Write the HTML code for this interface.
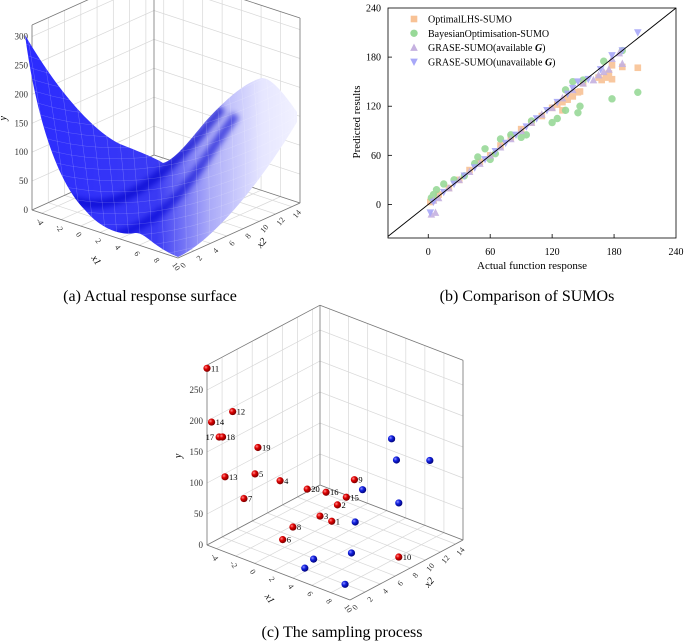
<!DOCTYPE html>
<html><head><meta charset="utf-8"><style>
body{margin:0;background:#fff;}
svg{display:block;font-family:"Liberation Serif",serif;}
</style></head><body>
<svg id="fig" width="685" height="643" viewBox="0 0 685 643" xmlns="http://www.w3.org/2000/svg">
<defs>
<linearGradient id="surfGrad" x1="0" y1="0" x2="1" y2="0">
<stop offset="0" stop-color="#2a2aff"/><stop offset="0.48" stop-color="#3a3af4"/><stop offset="0.66" stop-color="#a8a8f8"/><stop offset="0.85" stop-color="#e6e6ff"/><stop offset="1" stop-color="#f4f4ff"/>
</linearGradient>
<filter id="blur"><feGaussianBlur stdDeviation="3"/></filter>
<clipPath id="surfClip"><path d="M25,35 C35,110 55,180 85,210 C100,228 120,236 135,233 C145,232 152,246 178,257 C205,245 250,200 297,122 L297,112 C285,95 272,78 262,78 C245,82 225,100 205,122 C190,140 175,160 163,163 C155,158 140,152 120,144 C95,132 60,95 25,35 Z"/></clipPath>
</defs>
<g id="panelA"></g>
<g id="panelB"></g>
<g id="panelC"></g>
<text x="150" y="301" font-size="16" text-anchor="middle">(a) Actual response surface</text>
<text x="527" y="301" font-size="16" text-anchor="middle">(b) Comparison of SUMOs</text>
<text x="342" y="637" font-size="16" text-anchor="middle">(c) The sampling process</text>
</svg>
<script>
// ---------- data: panel B ----------
const lhsX=[2,5,10,20,30,40,50,60,70,80,90,100,110,120,125,130,130,135,135,140,145,147,150,165,168,172,175,178,178,188,203];
const lhsY=[3,5,12,20,30,42,52,60,72,82,92,100,108,118,122,125,115,130,128,132,137,138,148,155,152,155,160,153,170,168,167];
const bayX=[3,5,8,15,25,35,45,48,55,60,65,70,80,90,95,100,120,125,133,133,140,145,147,150,170,178,188,203];
const bayY=[8,12,18,25,30,35,50,58,68,55,62,80,85,82,85,102,100,105,115,140,150,112,120,152,175,129,188,137];
const avX=[3,5,7,10,20,30,40,50,60,70,80,90,100,110,120,130,140,150,160,165,170,175,178,185,188];
const avY=[-12,5,-10,8,20,30,40,50,60,70,80,90,100,110,118,130,140,148,152,158,162,165,178,185,172];
const unX=[2,5,15,25,35,45,55,65,75,85,95,105,115,125,135,140,145,155,167,178,188,203];
const unY=[-10,3,15,25,35,45,55,65,75,85,95,105,115,125,135,142,150,153,165,182,188,210];
const bTicks=[0,60,120,180,240];
const legendLabels=["OptimalLHS-SUMO","BayesianOptimisation-SUMO","GRASE-SUMO(available ","GRASE-SUMO(unavailable "];
// ---------- data: panel C ----------
const redX1=[2.0,2.6,1.4,-0.1,-1.7,-0.3,-3.1,0.3,4.3,8.4,-5.0,-3.1,-3.9,-4.6,4.4,3.3,-4.2,-4.0,-1.0,1.8];
const redX2=[7.7,7.7,6.9,3.5,2.2,4.1,2.5,4.7,7.8,8.5,0.0,1.0,1.0,0.1,6.6,5.3,0.6,0.8,1.7,4.7];
const redY=[30,60,40,110,120,10,70,30,110,5,285,220,110,200,90,100,175,175,170,100];
const redLabels=["1","2","3","4","5","6","7","8","9","10","11","12","13","14","15","16","17","18","19","20"];
const blueX1=[3.3,4.6,8.1,3.1,5.4,2.8,4.7,3.1,3.6,7.9];
const blueX2=[14,13,13,10.4,12.3,9.8,6.9,3.9,2.1,2.0];
const blueY=[130,110,130,70,50,20,0,0,0,0];
const zTicksC=[0,50,100,150,200,250];
const zTicksA=[0,50,100,150,200,250,300];
const x1Ticks=[-4,-2,0,2,4,6,8,10];
const x2Ticks=[0,2,4,6,8,10,12,14];

const NS="http://www.w3.org/2000/svg";
function mk(parent,tag,attrs,txt){const e=document.createElementNS(NS,tag);for(const k in attrs)e.setAttribute(k,attrs[k]);if(txt!==undefined)e.textContent=txt;parent.appendChild(e);return e;}

function box3d(g,P,zTicks,zmax,isA){
  const L=P.proj(-5,0,0),F=P.proj(10,0,0),R=P.proj(10,15,0),B=P.proj(-5,15,0);
  const Lt=P.proj(-5,0,zmax),Bt=P.proj(-5,15,zmax),Rt=P.proj(10,15,zmax);
  const walls=mk(g,'g',{});
  
  
  zTicks.forEach(z=>{const a=P.proj(-5,0,z),b=P.proj(-5,15,z),c=P.proj(10,15,z);
    const gl=mk(walls,'polyline',{points:`${a[0]},${a[1]} ${b[0]},${b[1]} ${c[0]},${c[1]}`,fill:'none',stroke:'#d8d8d8','stroke-width':0.7});
    });
  x1Ticks.forEach(x=>{const a=P.proj(x,0,0),b=P.proj(x,15,0),c=P.proj(x,15,zmax);
    const gl=mk(walls,'polyline',{points:`${a[0]},${a[1]} ${b[0]},${b[1]} ${c[0]},${c[1]}`,fill:'none',stroke:'#d8d8d8','stroke-width':0.7});
    });
  x2Ticks.forEach(x=>{const a=P.proj(10,x,0),b=P.proj(-5,x,0),c=P.proj(-5,x,zmax);
    const gl=mk(walls,'polyline',{points:`${a[0]},${a[1]} ${b[0]},${b[1]} ${c[0]},${c[1]}`,fill:'none',stroke:'#d8d8d8','stroke-width':0.7});
    });
  [[L,Lt],[B,Bt],[R,Rt],[Lt,Bt],[Bt,Rt],[L,B],[B,R],[L,F],[F,R]].forEach(s=>{
    const ln=mk(walls,'line',{x1:s[0][0],y1:s[0][1],x2:s[1][0],y2:s[1][1],stroke:'#777','stroke-width':0.8});
    });
  zTicks.forEach(z=>{const p=P.proj(-5,0,z);
    const t=mk(g,'text',{x:p[0]-4,y:p[1]+3,'font-size':9,'text-anchor':'end',fill:'#333'},String(z));
    });
  x1Ticks.forEach(x=>{const p=P.proj(x,0,0);
    const t=mk(g,'text',{x:p[0]-4,y:p[1]+10,'font-size':8,'text-anchor':'middle',fill:'#333',transform:`rotate(55 ${p[0]-4} ${p[1]+10})`},String(x));
    });
  x2Ticks.forEach(x=>{const p=P.proj(10,x,0);
    const t=mk(g,'text',{x:p[0]+7,y:p[1]+9,'font-size':8,'text-anchor':'middle',fill:'#333',transform:`rotate(-50 ${p[0]+7} ${p[1]+9})`},String(x));
    });
  const m1=P.proj(2.5,0,0),m2=P.proj(10,7.5,0),mz=P.proj(-5,0,zmax*0.5);
  const t1=mk(g,'text',{x:m1[0]-14,y:m1[1]+24,'font-size':10,'font-style':'italic',transform:`rotate(55 ${m1[0]-14} ${m1[1]+24})`},'x1');
  
  const t2=mk(g,'text',{x:m2[0]+22,y:m2[1]+18,'font-size':10,'font-style':'italic',transform:`rotate(-50 ${m2[0]+22} ${m2[1]+18})`},'x2');
  
  const ty=mk(g,'text',{x:mz[0]-26,y:mz[1]+3,'font-size':10,'font-style':'italic',transform:`rotate(-90 ${mz[0]-26} ${mz[1]+3})`},'y');
  
}
function makeProj(L,F,R,zs){return {proj:(x1,x2,z)=>{const t1=(x1+5)/15,t2=x2/15;
  return [L[0]+t1*(F[0]-L[0])+t2*(R[0]-F[0]), L[1]+t1*(F[1]-L[1])+t2*(R[1]-F[1])-z*zs];}};}

// ---------- Panel A ----------
const gA=document.getElementById('panelA');
const PA=makeProj([32,210],[178,258],[300,203],0.578);
box3d(gA,PA,zTicksA,320,true);
const surf=mk(gA,'g',{'clip-path':'url(#surfClip)'});

mk(surf,'rect',{x:20,y:30,width:285,height:235,fill:'url(#surfGrad)'});
const v1=mk(surf,'path',{d:'M70,200 C110,215 150,190 200,135 L222,108',fill:'none',stroke:'#0000c8','stroke-width':9,filter:'url(#blur)',opacity:0.65});

const v2=mk(surf,'path',{d:'M115,236 C150,225 175,205 205,160 C218,140 226,128 236,115',fill:'none',stroke:'#0000d0','stroke-width':9,filter:'url(#blur)',opacity:0.6});

for(let i=0;i<22;i++){const x=25+i*13;mk(surf,'path',{d:`M${x},20 q20,120 ${40-i*2},250`,fill:'none',stroke:'#ffffff','stroke-width':0.4,opacity:0.35});}
for(let i=0;i<22;i++){const y=40+i*11;mk(surf,'path',{d:`M20,${y-20} Q150,${y+30} 305,${y-60}`,fill:'none',stroke:'#ffffff','stroke-width':0.4,opacity:0.3});}

// ---------- Panel B ----------
const gB=document.getElementById('panelB');
const X0=388,X1=676,Y0=238,Y1=8,DMIN=-39,DMAX=240,RMIN=-41,RMAX=240;
const sx=v=>X0+(v-DMIN)/(DMAX-DMIN)*(X1-X0), sy=v=>Y0-(v-RMIN)/(RMAX-RMIN)*(Y0-Y1);
const frame=mk(gB,'rect',{x:X0,y:Y1,width:X1-X0,height:Y0-Y1,fill:'none',stroke:'#000','stroke-width':0.8});

bTicks.forEach(t=>{
  const tx=mk(gB,'text',{x:sx(t),y:Y0+17,'font-size':10,'text-anchor':'middle'},String(t));
  
  const ty=mk(gB,'text',{x:X0-7,y:sy(t)+3.5,'font-size':10,'text-anchor':'end'},String(t));
  
  if(t<240){mk(gB,'line',{x1:sx(t),y1:Y0,x2:sx(t),y2:Y0-4,stroke:'#000','stroke-width':0.8});
  mk(gB,'line',{x1:X0,y1:sy(t),x2:X0+4,y2:sy(t),stroke:'#000','stroke-width':0.8});}
});
const xl=mk(gB,'text',{x:532,y:269,'font-size':11,'text-anchor':'middle'},'Actual function response');

const yl=mk(gB,'text',{x:360,y:122,'font-size':11,'text-anchor':'middle',transform:'rotate(-90 360 122)'},'Predicted results');

function marker(g,type,x,y,col){
  const s=3.3;
  if(type==='sq')return mk(g,'rect',{x:x-s,y:y-s,width:2*s,height:2*s,fill:col});
  if(type==='ci')return mk(g,'circle',{cx:x,cy:y,r:s+0.4,fill:col});
  if(type==='up')return mk(g,'polygon',{points:`${x},${y-s-0.8} ${x-s-0.5},${y+s} ${x+s+0.5},${y+s}`,fill:col});
  return mk(g,'polygon',{points:`${x},${y+s+0.8} ${x-s-0.5},${y-s} ${x+s+0.5},${y-s}`,fill:col});
}
const series=[[lhsX,lhsY,'sq','#f8c295','lhs'],[bayX,bayY,'ci','#98d998','bayesian'],[avX,avY,'up','#c5b1e0','grase-available'],[unX,unY,'dn','#a8a8f8','grase-unavailable']];
series.forEach(s=>{const sg=mk(gB,'g',{opacity:0.9});
  
  s[0].forEach((v,i)=>{const m=marker(sg,s[2],sx(v),sy(s[1][i]),s[3]);
    });});
const diag=mk(gB,'line',{x1:sx(DMIN),y1:sy(DMIN),x2:sx(DMAX),y2:sy(DMAX),stroke:'#000','stroke-width':0.9});

series.forEach((s,i)=>{const y=19+i*14.3;
  const lg=mk(gB,'g',{});
  marker(lg,s[2],414,y,s[3]);
  const t=mk(lg,'text',{x:428,y:y+3.5,'font-size':10},legendLabels[i]);
  if(i>=2){mk(t,'tspan',{'font-weight':'bold','font-style':'italic'},'G');mk(t,'tspan',{},')');}
});

// ---------- Panel C ----------
const gC=document.getElementById('panelC');
const PC=makeProj([207,545],[350,600],[463,540],0.62);
box3d(gC,PC,zTicksC,290,false);
const gradR=mk(document.querySelector('defs'),'radialGradient',{id:'ballR',cx:'0.35',cy:'0.35',r:'0.7'});
mk(gradR,'stop',{offset:'0','stop-color':'#ff9090'});mk(gradR,'stop',{offset:'0.4','stop-color':'#e00000'});mk(gradR,'stop',{offset:'1','stop-color':'#700000'});
const gradB=mk(document.querySelector('defs'),'radialGradient',{id:'ballB',cx:'0.35',cy:'0.35',r:'0.7'});
mk(gradB,'stop',{offset:'0','stop-color':'#9090ff'});mk(gradB,'stop',{offset:'0.4','stop-color':'#1020e0'});mk(gradB,'stop',{offset:'1','stop-color':'#000070'});
blueX1.forEach((v,i)=>{const p=PC.proj(v,blueX2[i],blueY[i]);
  const c=mk(gC,'circle',{cx:p[0],cy:p[1],r:3.6,fill:'url(#ballB)'});
  });
redX1.forEach((v,i)=>{const p=PC.proj(v,redX2[i],redY[i]);
  const c=mk(gC,'circle',{cx:p[0],cy:p[1],r:3.6,fill:'url(#ballR)'});
  
  const left=redLabels[i]==='17';
  const t=mk(gC,'text',{x:left?p[0]-5:p[0]+4,y:p[1]+3,'font-size':8.5,'text-anchor':left?'end':'start'},redLabels[i]);
  });
</script>
</body></html>
